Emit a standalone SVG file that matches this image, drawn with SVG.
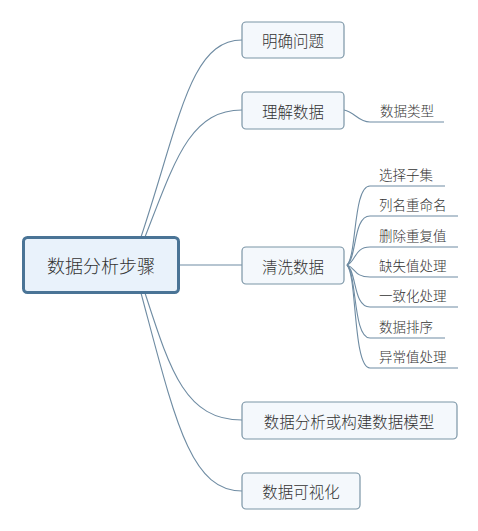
<svg xmlns="http://www.w3.org/2000/svg" width="478" height="531" viewBox="0 0 478 531">
<style>
.bg{fill:#ffffff}
.root rect{fill:#E9F2FB;stroke:#4A7496;stroke-width:3}
.topic rect{fill:#F4F8FC;stroke:#7B95A6;stroke-width:1.2}
.conn path{fill:none;stroke:#6F8CA3;stroke-width:1.1}
text{font-family:"Noto Sans CJK SC","Microsoft YaHei",sans-serif;fill:#333333;font-weight:300}
.rt{font-size:18px;text-anchor:middle;dominant-baseline:central}
.tt{font-size:15.5px;text-anchor:middle;dominant-baseline:central}
.st{font-size:13.5px}
</style>
<rect class="bg" width="478" height="531"/>
<g id="connectors" class="conn">
<path d="M141,237 C180,120 190,40 242,40"/>
<path d="M145,237 C175,160 190,110 242,110"/>
<path d="M179,265 L242,265"/>
<path d="M145,293 C170,370 185,420 242,420"/>
<path d="M141,293 C175,420 190,491 242,491"/>
<path d="M344,110 C355,112 358,122 370,122 L444,122"/>
<path d="M347,265 C357,255 353,186 370,186 L445,186"/>
<path d="M347,265 C357,258 353,216 370,216 L458,216"/>
<path d="M347,265 C356,262 354,247 370,247 L458,247"/>
<path d="M347,265 C356,268 354,277 370,277 L458,277"/>
<path d="M347,265 C357,272 353,307 370,307 L458,307"/>
<path d="M347,265 C357,275 353,338 370,338 L445,338"/>
<path d="M347,265 C357,275 353,368 370,368 L458,368"/>
</g>
<g id="root" class="root">
<rect x="23.5" y="237.5" width="155" height="55" rx="4"/>
<text class="rt" x="101" y="265">数据分析步骤</text>
</g>
<g id="n1" class="topic">
<rect x="242" y="22" width="102" height="36" rx="4"/>
<text class="tt" x="293" y="40">明确问题</text>
</g>
<g id="n2" class="topic">
<rect x="242" y="92" width="102" height="37" rx="4"/>
<text class="tt" x="293" y="110.5">理解数据</text>
</g>
<g id="n3" class="topic">
<rect x="242" y="247" width="102" height="37" rx="4"/>
<text class="tt" x="293" y="265.5">清洗数据</text>
</g>
<g id="n4" class="topic">
<rect x="242" y="402" width="215" height="37" rx="4"/>
<text class="tt" x="349" y="420.5">数据分析或构建数据模型</text>
</g>
<g id="n5" class="topic">
<rect x="242" y="473" width="118" height="36" rx="4"/>
<text class="tt" x="301" y="491">数据可视化</text>
</g>
<g id="s1"><text class="st" x="380" y="116">数据类型</text></g>
<g id="s2"><text class="st" x="379" y="180">选择子集</text></g>
<g id="s3"><text class="st" x="379" y="210">列名重命名</text></g>
<g id="s4"><text class="st" x="379" y="241">删除重复值</text></g>
<g id="s5"><text class="st" x="379" y="271">缺失值处理</text></g>
<g id="s6"><text class="st" x="379" y="301">一致化处理</text></g>
<g id="s7"><text class="st" x="379" y="332">数据排序</text></g>
<g id="s8"><text class="st" x="379" y="362">异常值处理</text></g>
</svg>
